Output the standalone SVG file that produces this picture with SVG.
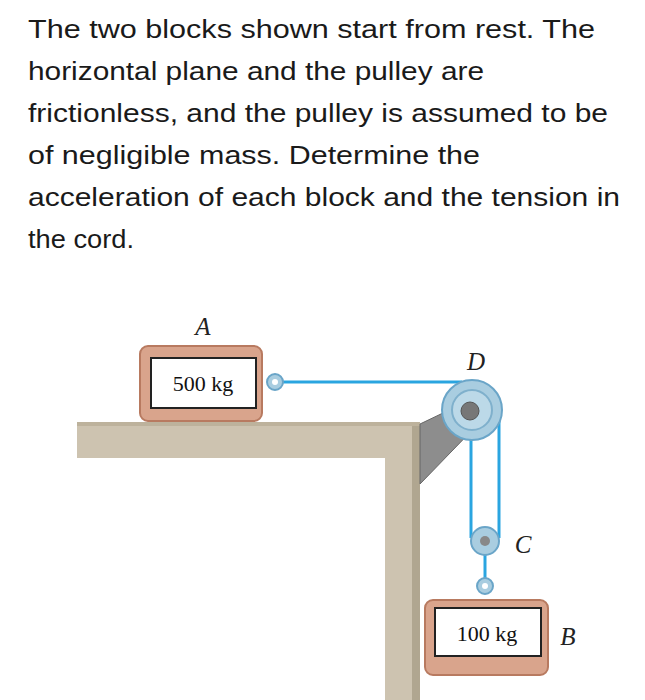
<svg xmlns="http://www.w3.org/2000/svg" width="645" height="700" viewBox="0 0 645 700">
<style>
.t{font-family:"Helvetica Neue","Liberation Sans",Arial,sans-serif;font-size:25.5px;fill:#1a1a1a}
.lbl{font-family:"Liberation Serif",serif;font-style:italic;font-size:25px;fill:#222}
.m{font-family:"Liberation Serif",serif;font-size:22px;fill:#111}
.cord{stroke:#2aa5e0;stroke-width:3;fill:none}
.blk{fill:#d9a48c;stroke:#b87a60;stroke-width:2}
.inner{fill:#fff;stroke:#222;stroke-width:2}
</style>
<rect width="645" height="700" fill="#fff"/>
<g id="text">
<text class="t" x="28" y="38" textLength="567" lengthAdjust="spacingAndGlyphs">The two blocks shown start from rest.  The</text>
<text class="t" x="28" y="80" textLength="456" lengthAdjust="spacingAndGlyphs">horizontal plane and the pulley are</text>
<text class="t" x="28" y="122" textLength="580" lengthAdjust="spacingAndGlyphs">frictionless, and the pulley is assumed to be</text>
<text class="t" x="28" y="164" textLength="452" lengthAdjust="spacingAndGlyphs">of negligible mass.  Determine the</text>
<text class="t" x="28" y="206" textLength="592" lengthAdjust="spacingAndGlyphs">acceleration of each block and the tension in</text>
<text class="t" x="28" y="248" textLength="106" lengthAdjust="spacingAndGlyphs">the cord.</text>
</g>
<g id="table">
<path d="M77 422 H420 V700 H385 V458 H77 Z" fill="#cdc3b0"/>
<rect x="412" y="422" width="8" height="278" fill="#b0a690"/>
<rect x="77" y="422" width="343" height="4" fill="#bdb29c"/>
</g>
<g id="bracket">
<polygon points="420,424 466,402 482,420 420,484" fill="#8d8d8d" stroke="#666" stroke-width="1"/>
</g>
<g id="connectors">
<line class="cord" x1="283" y1="382" x2="462" y2="382"/>
<line class="cord" x1="471" y1="412" x2="471" y2="538"/>
<line class="cord" x1="499" y1="412" x2="499" y2="538"/>
<line class="cord" x1="485" y1="540" x2="485" y2="582"/>
</g>
<g id="pulleyD">
<circle cx="472" cy="410" r="30" fill="#a9cde0" stroke="#6aa5c8" stroke-width="2"/>
<circle cx="472" cy="410" r="20" fill="#bcd9e8" stroke="#7fb0cc" stroke-width="2"/>
<circle cx="470" cy="411" r="9" fill="#777" stroke="#555"/>
</g>
<g id="pulleyC">
<circle cx="485" cy="541" r="14" fill="#a9cde0" stroke="#6aa5c8" stroke-width="2"/>
<circle cx="485" cy="541" r="5" fill="#888"/>
</g>
<g id="eyeA"><circle cx="275" cy="382" r="8" fill="#a9cde0" stroke="#6aa5c8" stroke-width="2"/><circle cx="275" cy="382" r="3" fill="#fff"/></g>
<g id="eyeB"><circle cx="485" cy="586" r="8" fill="#a9cde0" stroke="#6aa5c8" stroke-width="2"/><circle cx="485" cy="586" r="3" fill="#fff"/></g>
<g id="blockA">
<rect class="blk" x="140" y="346" width="122" height="75" rx="8"/>
<rect class="inner" x="151" y="358" width="105" height="50"/>
<text class="m" x="203" y="391" text-anchor="middle">500 kg</text>
<text class="lbl" x="203" y="335" text-anchor="middle">A</text>
</g>
<g id="blockB">
<rect class="blk" x="425" y="600" width="123" height="75" rx="8"/>
<rect class="inner" x="435" y="608" width="106" height="48"/>
<text class="m" x="487" y="641" text-anchor="middle">100 kg</text>
<text class="lbl" x="568" y="645" text-anchor="middle">B</text>
</g>
<text class="lbl" x="476" y="370" text-anchor="middle">D</text>
<text class="lbl" x="523" y="553" text-anchor="middle">C</text>
</svg>
